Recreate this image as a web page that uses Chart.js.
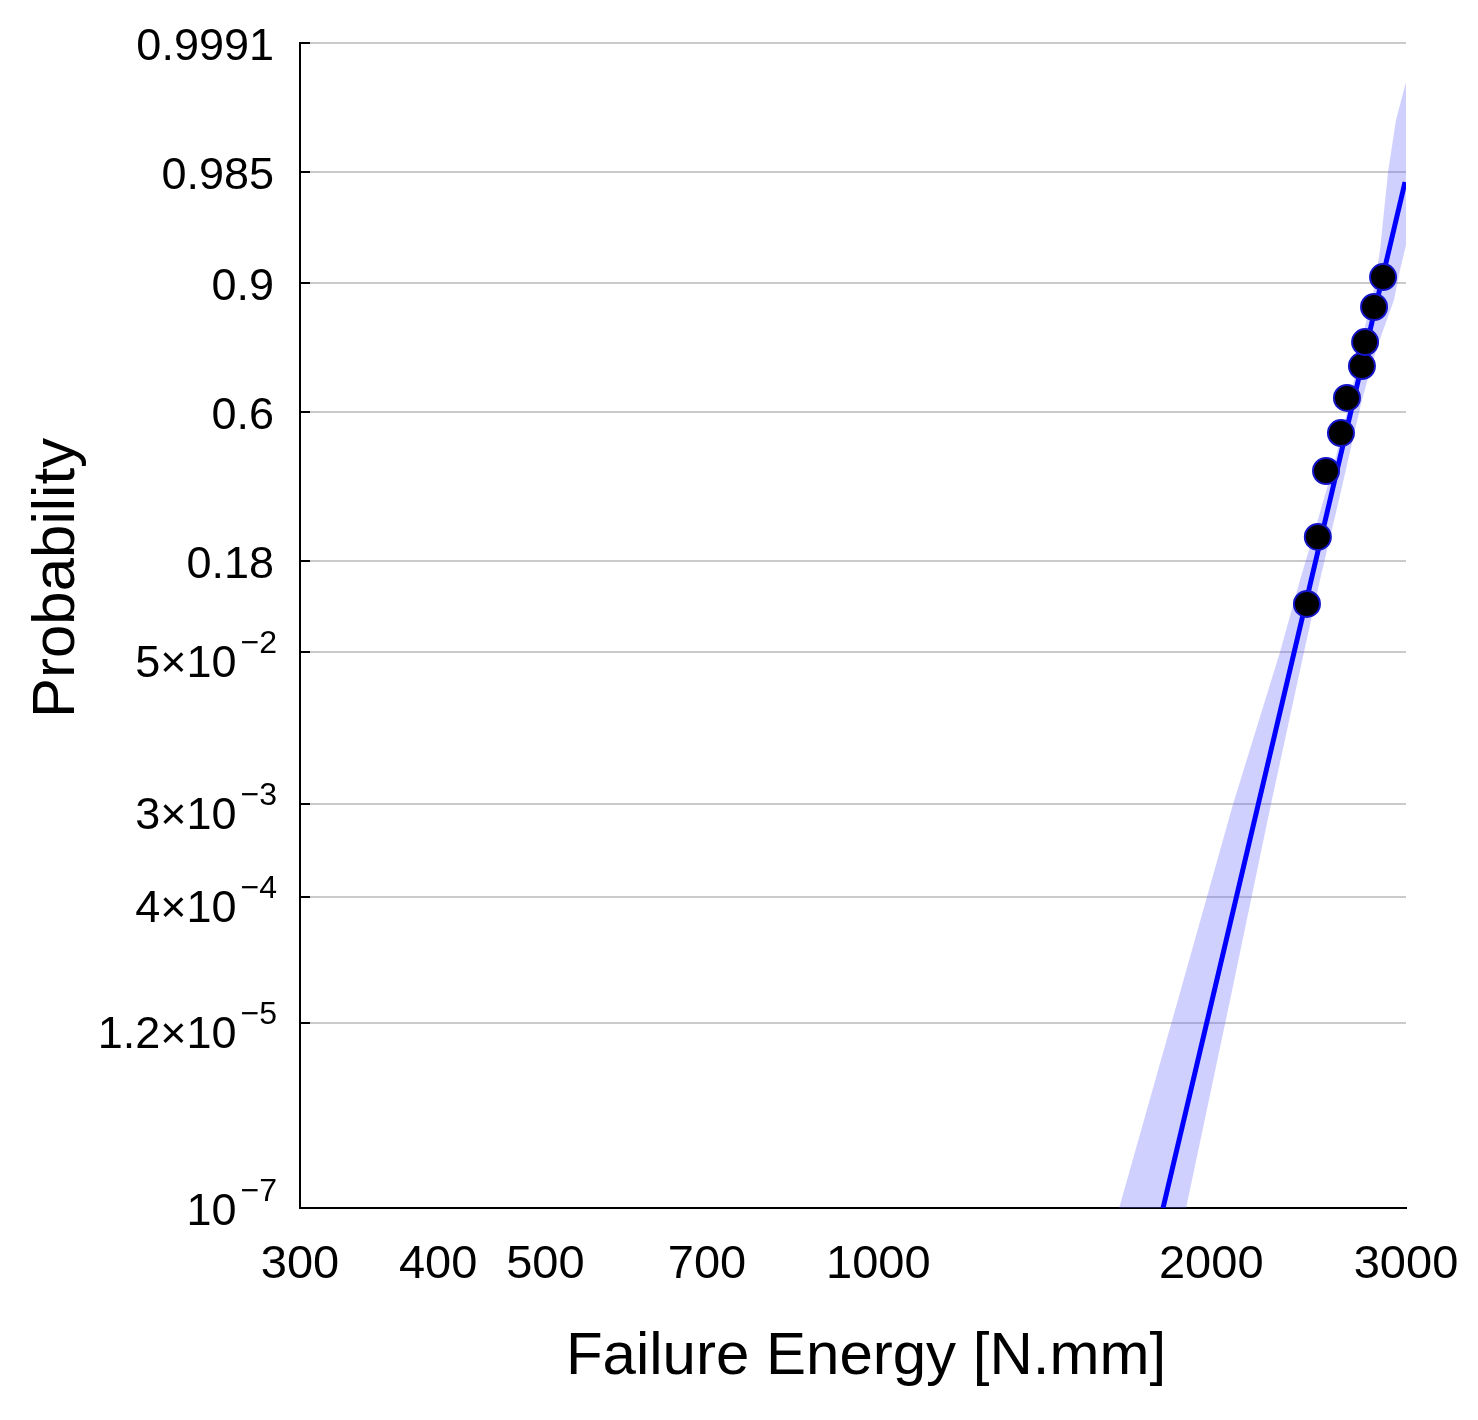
<!DOCTYPE html>
<html>
<head>
<meta charset="utf-8">
<title>Failure energy - probability plot</title>
<script src="https://cdn.jsdelivr.net/npm/chart.js@4.4.1/dist/chart.umd.min.js"></script>
<style>
  html, body { margin: 0; padding: 0; background: #fff; }
  #wrap { width: 1478px; height: 1420px; }
</style>
</head>
<body>
<div id="wrap"><canvas id="chart" width="1478" height="1420"></canvas></div>
<script>
/* ------------------------------------------------------------
   data
   y values are positions on the probability paper:
   0 = bottom of the axis (1e-7), 100 = top (0.9991)
   ------------------------------------------------------------ */
const energy  = [2441, 2497, 2540, 2620, 2653, 2737, 2755, 2807, 2860]; // N.mm
const probPos = [51.85, 57.60, 63.26, 66.52, 69.53, 72.27, 74.33, 77.34, 79.91];

// fitted line (end points)
const fitEnergy = [1809, 2994];
const fitPos    = [0, 88.07];

// confidence band: left edge bottom -> top, right edge top -> bottom
const bandLeftEnergy  = [1651, 1866, 2093, 2308, 2406, 2497, 2588, 2670, 2749, 2795, 2842, 2890, 2938, 3000];
const bandLeftPos     = [0, 17.85, 34.68, 47.73, 53.91, 59.06, 64.21, 69.36, 75.36, 77.94, 82.23, 88.93, 93.39, 96.65];
const bandRightEnergy = [3220, 3057, 3000, 2963, 2926, 2819, 2737, 2609, 2508, 2426, 2265, 2080, 1898];
const bandRightPos    = [96.65, 86.52, 82.66, 80.52, 77.94, 73.65, 69.36, 60.77, 53.91, 47.73, 34.68, 17.85, 0];

// axes
const xTicks    = [300, 400, 500, 700, 1000, 2000, 3000];
const yTickPos  = [100, 88.93, 79.40, 68.33, 55.54, 47.73, 34.68, 26.70, 15.88, 0];
const yTickText = ["0.9991", "0.985", "0.9", "0.6", "0.18", "5×10", "3×10", "4×10", "1.2×10", "10"];
const yTickExp  = ["", "", "", "", "", "−2", "−3", "−4", "−5", "−7"];

const FONT = "'Liberation Sans', Arial, sans-serif";

const pts = (xs, ys) => xs.map((x, i) => ({ x, y: ys[i] }));

/* ------------------------------------------------------------
   y labels with exponents, inner tick marks, axis titles
   ------------------------------------------------------------ */
const probAxisPlugin = {
  id: "probAxis",
  afterDraw(chart) {
    const ctx = chart.ctx;
    const ys = chart.scales.y;
    const area = chart.chartArea;
    ctx.save();

    ctx.strokeStyle = "#000";
    ctx.lineWidth = 2;
    yTickPos.forEach((v) => {
      const py = Math.round(ys.getPixelForValue(v));
      ctx.beginPath();
      ctx.moveTo(area.left, py);
      ctx.lineTo(area.left + 10, py);
      ctx.stroke();
    });

    ctx.fillStyle = "#000";
    ctx.textAlign = "right";
    ctx.textBaseline = "middle";
    const xr = 274;
    yTickPos.forEach((v, i) => {
      const py = ys.getPixelForValue(v);
      const exp = yTickExp[i];
      if (!exp) {
        ctx.font = "45px " + FONT;
        ctx.fillText(yTickText[i], xr, py + 5);
        return;
      }
      const dy = yTickText[i].includes("×") ? 13 : 5;
      ctx.font = "32px " + FONT;
      const ew = ctx.measureText(exp).width;
      ctx.fillText(exp, xr + 3, py + dy - 21);
      ctx.font = "45px " + FONT;
      ctx.fillText(yTickText[i], xr + 3 - ew - 4, py + dy);
    });

    // axis titles
    ctx.font = "60px " + FONT;
    ctx.textAlign = "center";
    ctx.textBaseline = "alphabetic";
    ctx.fillText("Failure Energy [N.mm]", 866, 1374);

    ctx.translate(74, 578);
    ctx.rotate(-Math.PI / 2);
    ctx.fillText("Probability", 0, 0);

    ctx.restore();
  },
};

new Chart(document.getElementById("chart"), {
  type: "scatter",
  data: {
    datasets: [
      {
        label: "data",
        data: pts(energy, probPos),
        pointRadius: 13,
        pointBackgroundColor: "#000",
        pointBorderColor: "#1414c8",
        pointBorderWidth: 2,
        showLine: false,
        order: 1,
      },
      {
        label: "fit",
        data: pts(fitEnergy, fitPos),
        showLine: true,
        borderColor: "#0000ff",
        borderWidth: 5,
        pointRadius: 0,
        order: 2,
      },
      {
        label: "band",
        data: pts(bandLeftEnergy, bandLeftPos).concat(pts(bandRightEnergy, bandRightPos)),
        showLine: true,
        borderWidth: 0,
        borderColor: "rgba(0,0,0,0)",
        backgroundColor: "rgba(100,100,255,0.3)",
        fill: "shape",
        pointRadius: 0,
        order: 3,
      },
    ],
  },
  options: {
    responsive: false,
    animation: false,
    layout: { padding: { top: 43, right: 72, bottom: 0, left: 0 } },
    plugins: { legend: { display: false }, tooltip: { enabled: false } },
    scales: {
      x: {
        type: "logarithmic",
        min: 300,
        max: 3000,
        afterBuildTicks: (s) => { s.ticks = xTicks.map((v) => ({ value: v })); },
        afterFit: (s) => { s.height = 212; s.paddingRight = 0; s.paddingLeft = 0; },
        ticks: {
          autoSkip: false,
          maxRotation: 0,
          padding: 29,
          color: "#000",
          font: { family: FONT, size: 47 },
          callback: (v) => String(v),
        },
        grid: { display: false, drawTicks: false },
        border: { display: true, color: "#000", width: 2 },
      },
      y: {
        type: "linear",
        min: 0,
        max: 100,
        afterBuildTicks: (s) => { s.ticks = yTickPos.map((v) => ({ value: v })); },
        afterFit: (s) => { s.width = 300; },
        ticks: { display: false },
        grid: { color: "#cacaca", lineWidth: 2, drawTicks: false },
        border: { display: true, color: "#000", width: 2 },
      },
    },
  },
  plugins: [probAxisPlugin],
});
</script>
</body>
</html>
